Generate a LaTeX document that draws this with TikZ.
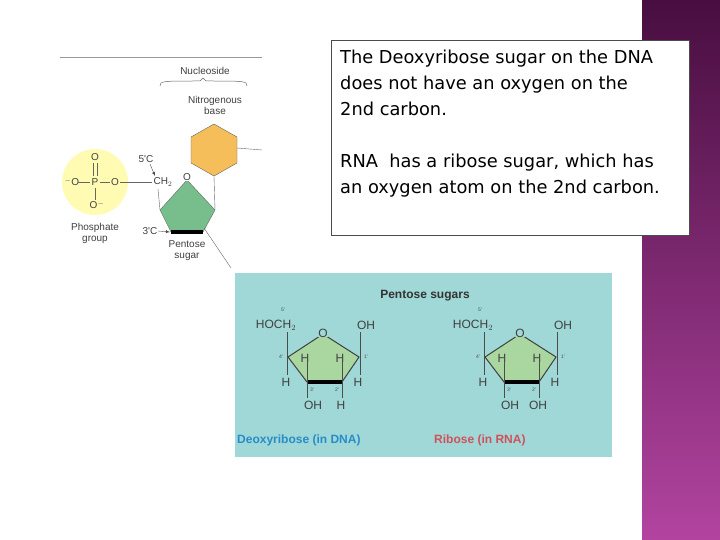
\documentclass[tikz,border=0pt]{standalone}
\usepackage{fontspec}
\usetikzlibrary{shapes.geometric}
\setmainfont{DejaVu Sans}
\newfontfamily\fig{Liberation Sans}
\definecolor{sbtop}{RGB}{72,14,64}
\definecolor{sbbot}{RGB}{178,68,160}
\definecolor{hexc}{RGB}{245,190,90}
\definecolor{pgreen}{RGB}{120,190,140}
\definecolor{lgreen}{RGB}{170,215,160}
\definecolor{teal}{RGB}{160,215,215}
\definecolor{dnablue}{RGB}{40,140,200}
\definecolor{rnared}{RGB}{210,80,90}
\begin{document}
\begin{tikzpicture}[x=1pt,y=-1pt,
  fl/.style={font=\fig\fontsize{10}{11}\selectfont,text=black!75,inner sep=0pt},
  fm/.style={font=\fig\fontsize{12}{12}\selectfont,text=black!75,inner sep=0pt},
  sl/.style={font=\fig\bfseries\fontsize{12}{12}\selectfont,text=black!80,inner sep=0pt},
  tiny/.style={font=\fig\fontsize{5}{5}\selectfont,text=black!70,inner sep=0pt},
  bond/.style={draw=black!70,line width=1pt}]
\useasboundingbox (0,0) rectangle (720,540);
\fill[white] (0,0) rectangle (720,540);
% sidebar
\shade[top color=sbtop, bottom color=sbbot] (642,0) rectangle (720,540);
% ---------- left figure
\draw[black!40,line width=1pt] (60,58) -- (262,58);
\fill[yellow!30] (95,182) circle (33);
\node[fl] (nuc) at (205,71) {Nucleoside};
\draw[black!60,line width=0.5pt] (160,86) .. controls (160,81) and (162,81) .. (200,81) -- (203,78) -- (206,81) .. controls (245,81) and (247,81) .. (247,86);
\node[fl,align=center] (nb) at (215,105) {Nitrogenous\\base};
\fill[hexc,draw=black!60] (214,124) -- (237,137) -- (237,163) -- (214,176) -- (191,163) -- (191,137) -- cycle;
\draw[black!60] (237,148) -- (262,150);
\coordinate (pO) at (187,180);
\coordinate (pL) at (160,210);
\coordinate (pR) at (215,210);
\coordinate (pBL) at (171,232);
\coordinate (pBR) at (203,232);
\fill[pgreen,draw=black!60] (pO) -- (pR) -- (pBR) -- (pBL) -- (pL) -- cycle;
\draw[line width=3.5pt] (pBL) -- (pBR);
\node[fl,fill=white,inner sep=0.5pt] (O5) at (187,177) {O};
\draw[black!60] (pR) -- (214,176);
\draw[black!60] (204,228) -- (231,268);
\node[fl] (ch) at (163,182) {CH$_2$};
\draw[black!60] (pL) -- (158,189);
\node[fl] (c5) at (146,159) {5'C};
\draw[-latex,black!70] (150,164) -- (155,176);
\node[fl] (c3) at (150,231) {3'C};
\draw[-latex,black!70] (158,231) -- (170,232);
\node[fl,align=center] (ps) at (187,251) {Pentose\\sugar};
\node[fl] (o1) at (95,157) {O};
\node[fl] (p) at (95,182) {P};
\node[fl] (o2) at (72,182) {$^{-}$O};
\node[fl] (o3) at (115,182) {O};
\node[fl] (o4) at (97,205) {O$^{-}$};
\draw[black!60] (93,163) -- (93,176) (97,163) -- (97,176);
\draw[black!60] (78,182) -- (90,182) (100,182) -- (110,182) (95,188) -- (95,200);
\draw[black!60] (120,182) -- (152,182);
\node[fl,align=center] (pg) at (95,233) {Phosphate\\group};
% ---------- text box
\node[draw=black!70,fill=white,line width=0.8pt,minimum width=358,minimum height=195,anchor=north west,inner sep=0pt] (box) at (331,40) {};
\node[anchor=north west,align=left,font=\fontsize{17.8}{26}\selectfont,inner sep=0pt] (txt) at (340,50) {The Deoxyribose sugar on the DNA\\does not have an oxygen on the\\2nd carbon.\\[26pt] RNA\ \ has a ribose sugar, which has\\an oxygen atom on the 2nd carbon.};
% ---------- pentose sugars panel
\fill[teal] (235,273) rectangle (612,457);
\node[sl] (title) at (425,296) {Pentose sugars};
\foreach \dx/\lab/\bot/\col/\nm in {0/Deoxyribose (in DNA)/H/dnablue/d, 197/Ribose (in RNA)/OH/rnared/r}{
 \begin{scope}[xshift=\dx]
 \fill[lgreen,draw=black!75,line width=1pt] (323,334) -- (359,357) -- (342,382) -- (307,382) -- (288,357) -- cycle;
 \draw[line width=4pt] (307,382) -- (342,382);
 \node[fm,fill=teal] (\nm O) at (323,333) {O};
 \node[fm] (\nm A) at (276,325) {HOCH$_2$};
 \node[fm] (\nm B) at (366,325) {OH};
 \node[fm] (\nm C) at (305,358) {H};
 \node[fm] (\nm D) at (340,358) {H};
 \node[fm] (\nm E) at (286,382) {H};
 \node[fm] (\nm F) at (358,382) {H};
 \node[fm] (\nm G) at (313,405) {OH};
 \node[fm] (\nm H) at (341,405) {\bot};
 \draw[bond] (287,332) -- (287,375) (360,332) -- (360,375) (307,357) -- (307,398) (342,357) -- (342,398);
 \node[tiny] at (283,310) {5'};
 \node[tiny] at (281,357) {4'};
 \node[tiny] at (366,357) {1'};
 \node[tiny] at (312,390) {3'};
 \node[tiny] at (337,390) {2'};
 \node[font=\fig\bfseries\fontsize{12}{12}\selectfont,text=\col,anchor=west,inner sep=0] (\nm L) at (237,440) {\lab};
 \end{scope}}
\end{tikzpicture}
\end{document}
